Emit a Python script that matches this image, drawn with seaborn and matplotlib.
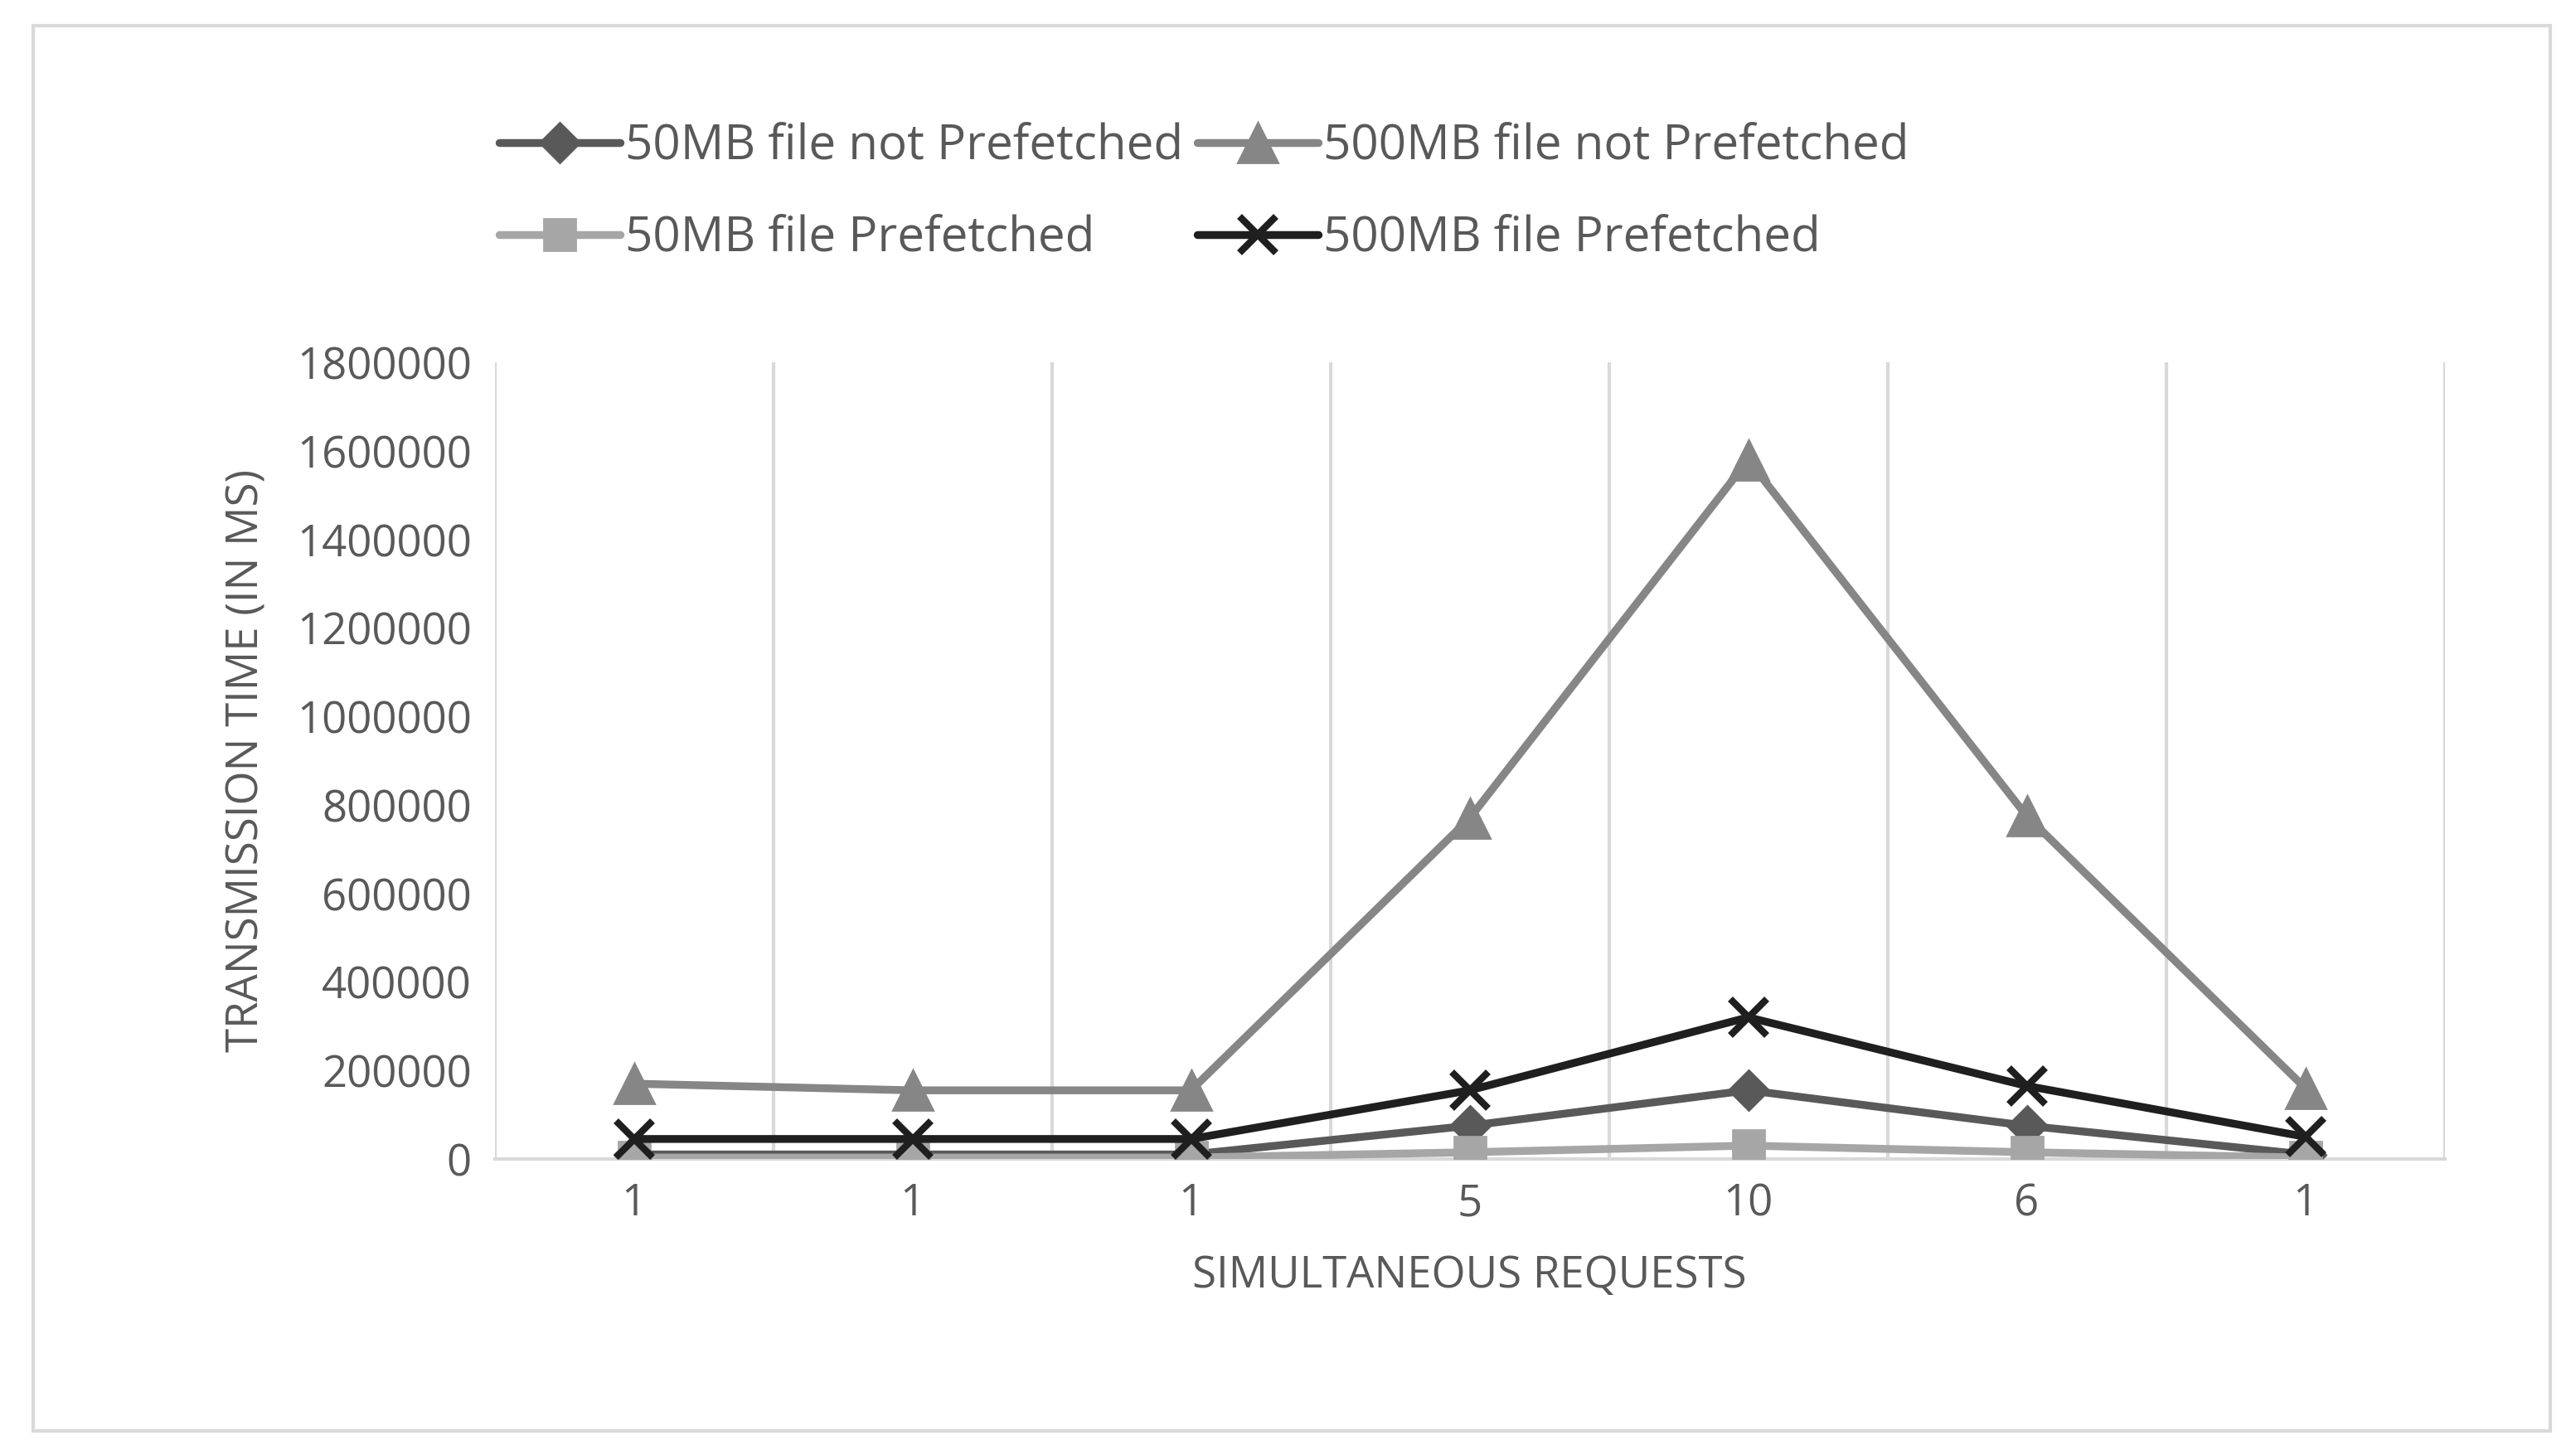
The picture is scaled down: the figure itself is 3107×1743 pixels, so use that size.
import numpy as np
import pandas as pd
import matplotlib
matplotlib.use('Agg')
import matplotlib.pyplot as plt
import seaborn as sns
from matplotlib.patches import Rectangle

# data
requests = ['1', '1', '1', '5', '10', '6', '1']
mb50_not = [10000, 10000, 10000, 75000, 155000, 75000, 10000]
mb50_pref = [3000, 3000, 3000, 15000, 30000, 15000, 3000]
mb500_not = [170000, 155000, 155000, 770000, 1580000, 775000, 160000]
mb500_pref = [45000, 45000, 45000, 155000, 320000, 165000, 50000]

names = ['50MB file not Prefetched', '50MB file Prefetched',
         '500MB file not Prefetched', '500MB file Prefetched']
series = [mb50_not, mb50_pref, mb500_not, mb500_pref]
colors = ['#595959', '#a6a6a6', '#868686', '#1f1f1f']
markers = ['D', 's', '^', 'x']
msizes = [12, 14, 17, 16]

rows = []
for n, vals in zip(names, series):
    for i, v in enumerate(vals):
        rows.append({'pos': i, 'value': v, 'series': n})
df = pd.DataFrame(rows)

sns.set_style('white')
plt.rcParams['font.family'] = ['Open Sans', 'DejaVu Sans']

fig = plt.figure(figsize=(15.535, 8.715), dpi=200)
ax = fig.add_axes([0.192, 0.198, 0.757, 0.551])

for n, c, m, ms in zip(names, colors, markers, msizes):
    sns.lineplot(data=df[df['series'] == n], x='pos', y='value', ax=ax,
                 color=c, marker=m, markersize=ms, linewidth=3.4,
                 markeredgecolor=c, markeredgewidth=3 if m == 'x' else 1,
                 label=n, zorder=3)

ax.set_xlim(-0.5, 6.5)
ax.set_ylim(0, 1800000)
ax.set_yticks(np.arange(0, 1800001, 200000))
ax.set_yticklabels([str(v) for v in range(0, 1800001, 200000)], fontsize=19, color='#595959')
ax.set_xticks(range(len(requests)))
ax.set_xticklabels(requests, fontsize=19, color='#595959')
for b in np.arange(-0.5, 7, 1):
    ax.axvline(b, color='#d9d9d9', lw=1.5, zorder=0)
for s in ['top', 'right', 'left']:
    ax.spines[s].set_visible(False)
ax.spines['bottom'].set_color('#d9d9d9')
ax.spines['bottom'].set_linewidth(1.5)
ax.tick_params(axis='both', length=0, pad=10)
ax.set_xlabel('SIMULTANEOUS REQUESTS', fontsize=19, color='#595959', labelpad=12)
ax.set_ylabel('TRANSMISSION TIME (IN MS)', fontsize=19, color='#595959', labelpad=12)

ax.legend(loc='lower left', bbox_to_anchor=(-0.02, 1.07), ncol=2, frameon=False,
          fontsize=21, handlelength=2.5, columnspacing=0.3, handletextpad=0.1,
          labelspacing=0.9, labelcolor='#595959')

fig.patches.append(Rectangle((0.013, 0.01), 0.977, 0.972, transform=fig.transFigure,
                             fill=False, edgecolor='#d9d9d9', lw=1.5))
fig.savefig('out.png', dpi=200)
